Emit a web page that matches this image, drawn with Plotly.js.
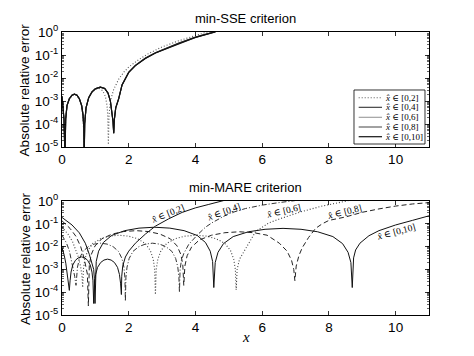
<!DOCTYPE html>
<html>
<head>
<meta charset="utf-8">
<script src="https://cdn.plot.ly/plotly-3.0.1.min.js"></script>
<style>html,body{margin:0;padding:0;background:#fff;}#chart{width:474px;height:356px;}</style>
</head>
<body>
<div id="chart"></div>
<script>
// ---------- data ----------
var x_tick_vals = [0, 2, 4, 6, 8, 10];
var y_tick_vals = [1e-5, 1e-4, 1e-3, 1e-2, 1e-1, 1];
var y_tick_text = ['10<sup>-5</sup>', '10<sup>-4</sup>', '10<sup>-3</sup>', '10<sup>-2</sup>', '10<sup>-1</sup>', '10<sup>0</sup>'];
var series_names = ['x\u0302 \u2208 [0,2]', 'x\u0302 \u2208 [0,4]', 'x\u0302 \u2208 [0,6]', 'x\u0302 \u2208 [0,8]', 'x\u0302 \u2208 [0,10]'];

// min-SSE panel
var sse_x_02 = [0, 0.03, 0.06, 0.085, 0.11, 0.15, 0.22, 0.3, 0.37, 0.45, 0.52, 0.59, 0.63, 0.65, 0.66, 0.675, 0.72, 0.8, 0.9, 1.0, 1.12, 1.22, 1.3, 1.35, 1.37, 1.39, 1.41, 1.45, 1.55, 1.7, 1.85, 2.0, 2.3, 2.6, 3.0, 3.5, 4.0, 4.4];
var sse_y_02 = [1.41e-3, 5.6e-4, 1.41e-4, 3.2e-6, 1.78e-4, 6.3e-4, 1.26e-3, 1.7e-3, 1.9e-3, 1.7e-3, 1.2e-3, 5.6e-4, 2e-4, 5e-5, 3.2e-6, 1e-4, 5e-4, 1.35e-3, 2.4e-3, 3.2e-3, 3.5e-3, 2.8e-3, 1.6e-3, 6.3e-4, 2.5e-4, 1.26e-5, 2.5e-4, 1e-3, 3.2e-3, 8.9e-3, 0.0178, 0.03, 0.063, 0.117, 0.224, 0.417, 0.71, 1.05];
var sse_x = [0, 0.03, 0.06, 0.09, 0.11, 0.15, 0.22, 0.3, 0.37, 0.45, 0.52, 0.59, 0.63, 0.655, 0.665, 0.68, 0.72, 0.8, 0.9, 1.0, 1.15, 1.28, 1.38, 1.45, 1.5, 1.53, 1.55, 1.57, 1.61, 1.7, 1.8, 1.9, 2.0, 2.2, 2.5, 2.8, 3.0, 3.5, 4.0, 4.6];
var sse_y_04 = [1.6e-3, 6.3e-4, 1.6e-4, 3.2e-6, 1.6e-4, 6.3e-4, 1.26e-3, 1.8e-3, 2.0e-3, 1.8e-3, 1.26e-3, 6.3e-4, 2.5e-4, 6.3e-5, 3.2e-6, 1e-4, 5e-4, 1.4e-3, 2.5e-3, 3.4e-3, 4.0e-3, 3.5e-3, 2.2e-3, 1e-3, 3.2e-4, 1.26e-4, 4e-5, 1.6e-4, 5e-4, 1.26e-3, 5e-3, 0.01, 0.0178, 0.0355, 0.074, 0.126, 0.166, 0.33, 0.6, 1.05];
var sse_y_06 = [1.6e-3, 6.3e-4, 1.6e-4, 3.2e-6, 1.6e-4, 6.3e-4, 1.26e-3, 1.8e-3, 2.0e-3, 1.8e-3, 1.26e-3, 6.3e-4, 2.5e-4, 6.3e-5, 3.2e-6, 1e-4, 5e-4, 1.4e-3, 2.5e-3, 3.4e-3, 4.0e-3, 3.5e-3, 2.2e-3, 1e-3, 3.2e-4, 1.26e-4, 4e-5, 1.6e-4, 5e-4, 1.26e-3, 5e-3, 0.01, 0.0178, 0.035, 0.073, 0.124, 0.164, 0.325, 0.59, 1.04];
var sse_y_08 = [1.6e-3, 6.3e-4, 1.6e-4, 3.2e-6, 1.6e-4, 6.3e-4, 1.26e-3, 1.8e-3, 2.0e-3, 1.8e-3, 1.26e-3, 6.3e-4, 2.5e-4, 6.3e-5, 3.2e-6, 1e-4, 5e-4, 1.4e-3, 2.5e-3, 3.4e-3, 4.0e-3, 3.5e-3, 2.2e-3, 1e-3, 3.2e-4, 1.26e-4, 4e-5, 1.6e-4, 5e-4, 1.26e-3, 5e-3, 0.01, 0.0176, 0.035, 0.072, 0.123, 0.162, 0.32, 0.585, 1.03];
var sse_y_10 = [1.6e-3, 6.3e-4, 1.6e-4, 3.2e-6, 1.6e-4, 6.3e-4, 1.26e-3, 1.8e-3, 2.0e-3, 1.8e-3, 1.26e-3, 6.3e-4, 2.5e-4, 6.3e-5, 3.2e-6, 1e-4, 5e-4, 1.4e-3, 2.5e-3, 3.4e-3, 4.0e-3, 3.5e-3, 2.2e-3, 1e-3, 3.2e-4, 1.26e-4, 4e-5, 1.6e-4, 5e-4, 1.26e-3, 5e-3, 0.01, 0.0175, 0.0345, 0.071, 0.122, 0.16, 0.315, 0.58, 1.02];

// min-MARE panel
var mare_x_02 = [0, 0.022, 0.066, 0.114, 0.154, 0.18, 0.22, 0.242, 0.271, 0.322, 0.403, 0.49, 0.585, 0.68, 0.768, 0.848, 0.899, 0.928, 0.95, 0.975, 1.008, 1.066, 1.158, 1.257, 1.365, 1.473, 1.573, 1.664, 1.722, 1.755, 1.78, 1.79, 1.82, 1.9, 2.0, 2.2, 2.5, 2.8, 3.2, 3.6, 4.0, 4.4, 4.85];
var mare_y_02 = [8.9e-3, 7.1e-3, 4.2e-3, 1.86e-3, 6.6e-4, 3.2e-4, 1.2e-4, 3.16e-4, 7.6e-4, 1.55e-3, 2.51e-3, 3.24e-3, 3.55e-3, 3.24e-3, 2.51e-3, 1.55e-3, 7.6e-4, 3.16e-4, 3.2e-5, 2.5e-4, 6.0e-4, 1.23e-3, 2.0e-3, 2.57e-3, 2.82e-3, 2.57e-3, 2.0e-3, 1.23e-3, 6.0e-4, 2.5e-4, 7.9e-5, 5e-4, 1.4e-3, 3.5e-3, 6.3e-3, 0.0141, 0.0355, 0.079, 0.166, 0.316, 0.5, 0.71, 1.05];
var mare_x_04 = [0, 0.04, 0.13, 0.22, 0.29, 0.345, 0.38, 0.42, 0.435, 0.464, 0.524, 0.627, 0.79, 0.968, 1.16, 1.352, 1.53, 1.693, 1.796, 1.856, 1.885, 1.9, 1.916, 1.949, 2.013, 2.127, 2.305, 2.499, 2.71, 2.921, 3.115, 3.293, 3.407, 3.471, 3.504, 3.52, 3.54, 3.58, 3.65, 3.8, 4.05, 4.3, 4.5, 5.0, 5.5, 6.0, 6.5, 7.0];
var mare_y_04 = [0.0316, 0.025, 0.0148, 6.6e-3, 2.3e-3, 7.9e-4, 5e-4, 2e-4, 4.47e-4, 1.26e-3, 3.02e-3, 6.17e-3, 0.01, 0.0129, 0.0141, 0.0129, 0.01, 6.17e-3, 3.02e-3, 1.26e-3, 4.47e-4, 4e-5, 4.47e-4, 1.26e-3, 3.02e-3, 6.17e-3, 0.01, 0.0129, 0.0141, 0.0129, 0.01, 6.17e-3, 3.02e-3, 1.26e-3, 4.47e-4, 1e-4, 1e-3, 2.5e-3, 5e-3, 0.0126, 0.0316, 0.071, 0.112, 0.282, 0.468, 0.66, 0.85, 1.05];
var mare_x_06 = [0, 0.06, 0.18, 0.32, 0.42, 0.5, 0.56, 0.6, 0.62, 0.642, 0.685, 0.773, 0.925, 1.165, 1.427, 1.71, 1.993, 2.255, 2.495, 2.647, 2.735, 2.778, 2.8, 2.824, 2.873, 2.969, 3.139, 3.405, 3.695, 4.01, 4.325, 4.615, 4.881, 5.051, 5.147, 5.196, 5.22, 5.25, 5.32, 5.45, 5.6, 5.8, 6.0, 6.2, 6.6, 7.2, 7.8, 8.2, 8.6];
var mare_y_06 = [0.071, 0.056, 0.035, 0.016, 6.3e-3, 3.2e-3, 1.26e-3, 5e-4, 1.6e-4, 1e-3, 2.82e-3, 6.76e-3, 0.0138, 0.0224, 0.0288, 0.0316, 0.0288, 0.0224, 0.0138, 6.76e-3, 2.82e-3, 1e-3, 7.9e-5, 1e-3, 2.82e-3, 6.76e-3, 0.0138, 0.0224, 0.0288, 0.0316, 0.0288, 0.0224, 0.0138, 6.76e-3, 2.82e-3, 1e-3, 1.26e-4, 1e-3, 2.8e-3, 6.3e-3, 0.0141, 0.045, 0.071, 0.11, 0.18, 0.35, 0.6, 0.79, 1.05];
var mare_x_08 = [0, 0.08, 0.24, 0.42, 0.56, 0.66, 0.72, 0.76, 0.79, 0.819, 0.876, 0.99, 1.19, 1.505, 1.848, 2.22, 2.592, 2.935, 3.25, 3.45, 3.564, 3.621, 3.65, 3.683, 3.75, 3.883, 4.116, 4.483, 4.882, 5.315, 5.748, 6.148, 6.514, 6.747, 6.88, 6.947, 6.98, 7.02, 7.1, 7.2, 7.39, 7.6, 7.8, 8.0, 8.5, 9.0, 9.5, 10.0, 10.5, 11];
var mare_y_08 = [0.135, 0.107, 0.063, 0.028, 0.01, 3.2e-3, 1.4e-3, 6.3e-4, 2.5e-5, 1.58e-3, 4.47e-3, 0.0107, 0.0219, 0.0355, 0.0457, 0.0501, 0.0457, 0.0355, 0.0219, 0.0107, 4.47e-3, 1.58e-3, 2e-4, 1.41e-3, 3.98e-3, 9.5e-3, 0.0195, 0.0316, 0.0407, 0.0447, 0.0407, 0.0316, 0.0141, 6.3e-3, 2.5e-3, 1e-3, 3.2e-4, 1.4e-3, 4e-3, 8.9e-3, 0.025, 0.063, 0.1, 0.141, 0.2, 0.32, 0.45, 0.6, 0.74, 0.85];
var mare_x_10 = [0, 0.1, 0.3, 0.52, 0.7, 0.82, 0.9, 0.95, 0.97, 0.99, 1.026, 1.097, 1.239, 1.488, 1.88, 2.307, 2.77, 3.233, 3.66, 4.052, 4.301, 4.443, 4.514, 4.55, 4.592, 4.675, 4.84, 5.131, 5.588, 6.086, 6.625, 7.164, 7.663, 8.119, 8.41, 8.575, 8.659, 8.7, 8.74, 8.8, 8.93, 9.2, 9.5, 10, 10.5, 11];
var mare_y_10 = [0.19, 0.15, 0.089, 0.04, 0.014, 0.0045, 0.0016, 0.001, 0.0004, 3.2e-5, 2.24e-3, 6.3e-3, 0.0151, 0.0309, 0.0501, 0.0646, 0.0708, 0.0646, 0.0501, 0.0309, 0.0151, 6.3e-3, 2.24e-3, 1.6e-4, 2.0e-3, 5.6e-3, 0.0135, 0.0275, 0.0447, 0.0575, 0.0631, 0.0575, 0.0447, 0.0275, 0.0135, 5.6e-3, 2.0e-3, 1.6e-4, 3.2e-3, 7.1e-3, 0.0141, 0.03, 0.05, 0.089, 0.141, 0.224];

// ---------- drawing ----------
var SANS = 'Liberation Sans, Arial, Helvetica, sans-serif';
var SERIF = 'Liberation Serif, DejaVu Serif, Times New Roman, serif';

function tr(x, y, xa, ya, color, dash, width) {
  return {x: x, y: y, xaxis: xa, yaxis: ya, type: 'scatter', mode: 'lines',
    line: {color: color, dash: dash, width: width}, hoverinfo: 'skip', showlegend: false};
}

var sseStyles = [
  {c: '#555', d: '1px,2px', w: 1.1},
  {c: '#333', d: 'solid', w: 1.1},
  {c: '#999', d: 'solid', w: 1.1},
  {c: '#555', d: 'solid', w: 1.1},
  {c: '#111', d: 'solid', w: 1.2}
];

var traces = [
  tr(sse_x_02, sse_y_02, 'x', 'y', sseStyles[0].c, sseStyles[0].d, sseStyles[0].w),
  tr(sse_x, sse_y_06, 'x', 'y', sseStyles[2].c, sseStyles[2].d, sseStyles[2].w),
  tr(sse_x, sse_y_08, 'x', 'y', sseStyles[3].c, sseStyles[3].d, sseStyles[3].w),
  tr(sse_x, sse_y_04, 'x', 'y', sseStyles[1].c, sseStyles[1].d, sseStyles[1].w),
  tr(sse_x, sse_y_10, 'x', 'y', sseStyles[4].c, sseStyles[4].d, sseStyles[4].w),
  tr(mare_x_06, mare_y_06, 'x2', 'y2', '#444', '1px,2px', 1.1),
  tr(mare_x_08, mare_y_08, 'x2', 'y2', '#222', '5px,3px', 1),
  tr(mare_x_04, mare_y_04, 'x2', 'y2', '#333', '5px,2px,1px,2px', 1),
  tr(mare_x_10, mare_y_10, 'x2', 'y2', '#111', 'solid', 1),
  tr(mare_x_02, mare_y_02, 'x2', 'y2', '#111', 'solid', 1)
];

function xax(anchor) {
  return {range: [0, 11], tickmode: 'array', tickvals: x_tick_vals, ticks: 'inside', ticklen: 4,
    tickwidth: 0.8, tickcolor: '#000', mirror: 'ticks', showline: true, linecolor: '#000', linewidth: 1,
    showgrid: false, zeroline: false, anchor: anchor, fixedrange: true,
    tickfont: {family: SANS, size: 13.5, color: '#000'}};
}
function yax(domain, anchor) {
  return {type: 'log', range: [-5, 0], domain: domain, anchor: anchor, tickmode: 'array',
    tickvals: y_tick_vals, ticktext: y_tick_text, ticks: 'inside', ticklen: 4, tickwidth: 0.8,
    tickcolor: '#000', mirror: 'ticks', showline: true, linecolor: '#000', linewidth: 1,
    showgrid: false, zeroline: false, fixedrange: true,
    minor: {ticks: 'inside', ticklen: 2, tickwidth: 0.6, tickcolor: '#000', dtick: 'D1', showgrid: false},
    tickfont: {family: SANS, size: 13.5, color: '#000'}};
}

// legend geometry (paper coords)
var legX0 = 0.7956, legX1 = 0.9891, legY0 = 0.6042, legY1 = 0.7951;
var legRows = [0.7678, 0.7339, 0.6986, 0.6643, 0.6300];
var legLineX0 = 0.8084, legLineX1 = 0.8720, legTextX = 0.8750;

var shapes = [{type: 'rect', xref: 'paper', yref: 'paper', x0: legX0, x1: legX1, y0: legY0, y1: legY1,
  line: {color: '#000', width: 0.8}, fillcolor: '#fff', layer: 'above'}];
var annotations = [];
for (var i = 0; i < 5; i++) {
  shapes.push({type: 'line', xref: 'paper', yref: 'paper', x0: legLineX0, x1: legLineX1,
    y0: legRows[i], y1: legRows[i], layer: 'above',
    line: {color: sseStyles[i].c, width: sseStyles[i].w, dash: sseStyles[i].d}});
  annotations.push({xref: 'paper', yref: 'paper', x: legTextX, y: legRows[i], xanchor: 'left', yanchor: 'middle',
    showarrow: false, text: series_names[i].replace('x\u0302', '<i>x\u0302</i>'),
    font: {family: SERIF, size: 9, color: '#000'}});
}

// titles and axis titles
annotations.push({xref: 'paper', yref: 'paper', x: 0.5, y: 1.048, xanchor: 'center', yanchor: 'middle',
  showarrow: false, text: 'min-SSE criterion', font: {family: SANS, size: 13, color: '#000'}});
annotations.push({xref: 'paper', yref: 'paper', x: 0.5, y: 0.452, xanchor: 'center', yanchor: 'middle',
  showarrow: false, text: 'min-MARE criterion', font: {family: SANS, size: 13, color: '#000'}});
annotations.push({xref: 'paper', yref: 'paper', x: -0.101, y: 0.797, xanchor: 'center', yanchor: 'middle',
  showarrow: false, textangle: -90, text: 'Absolute relative error', font: {family: SANS, size: 13.5, color: '#000'}});
annotations.push({xref: 'paper', yref: 'paper', x: -0.101, y: 0.201, xanchor: 'center', yanchor: 'middle',
  showarrow: false, textangle: -90, text: 'Absolute relative error', font: {family: SANS, size: 13.5, color: '#000'}});
annotations.push({xref: 'paper', yref: 'paper', x: 0.5, y: -0.078, xanchor: 'center', yanchor: 'middle',
  showarrow: false, text: '<i>x</i>', font: {family: SERIF, size: 15, color: '#000'}});

// curve labels in the lower panel (y in log10 units as required for log axes)
var curveLabels = [
  {x: 3.15, y: -0.55, a: -22},
  {x: 4.85, y: -0.47, a: -20},
  {x: 6.65, y: -0.45, a: -13},
  {x: 8.47, y: -0.5, a: -14},
  {x: 10.0, y: -1.35, a: -15}
];
for (var j = 0; j < 5; j++) {
  annotations.push({xref: 'x2', yref: 'y2', x: curveLabels[j].x, y: curveLabels[j].y, xanchor: 'center', yanchor: 'middle',
    showarrow: false, textangle: curveLabels[j].a, text: series_names[j].replace('x\u0302', '<i>x\u0302</i>'),
    font: {family: SERIF, size: 9.5, color: '#000'}});
}

var layout = {
  width: 474, height: 356,
  margin: {l: 62, r: 45, t: 32, b: 41, pad: 0},
  paper_bgcolor: '#fff', plot_bgcolor: '#fff',
  showlegend: false,
  xaxis: xax('y'),
  yaxis: yax([0.5936, 1], 'x'),
  xaxis2: xax('y2'),
  yaxis2: yax([0, 0.4028], 'x2'),
  shapes: shapes,
  annotations: annotations
};

Plotly.newPlot('chart', traces, layout, {staticPlot: true, displayModeBar: false});
</script>
</body>
</html>
